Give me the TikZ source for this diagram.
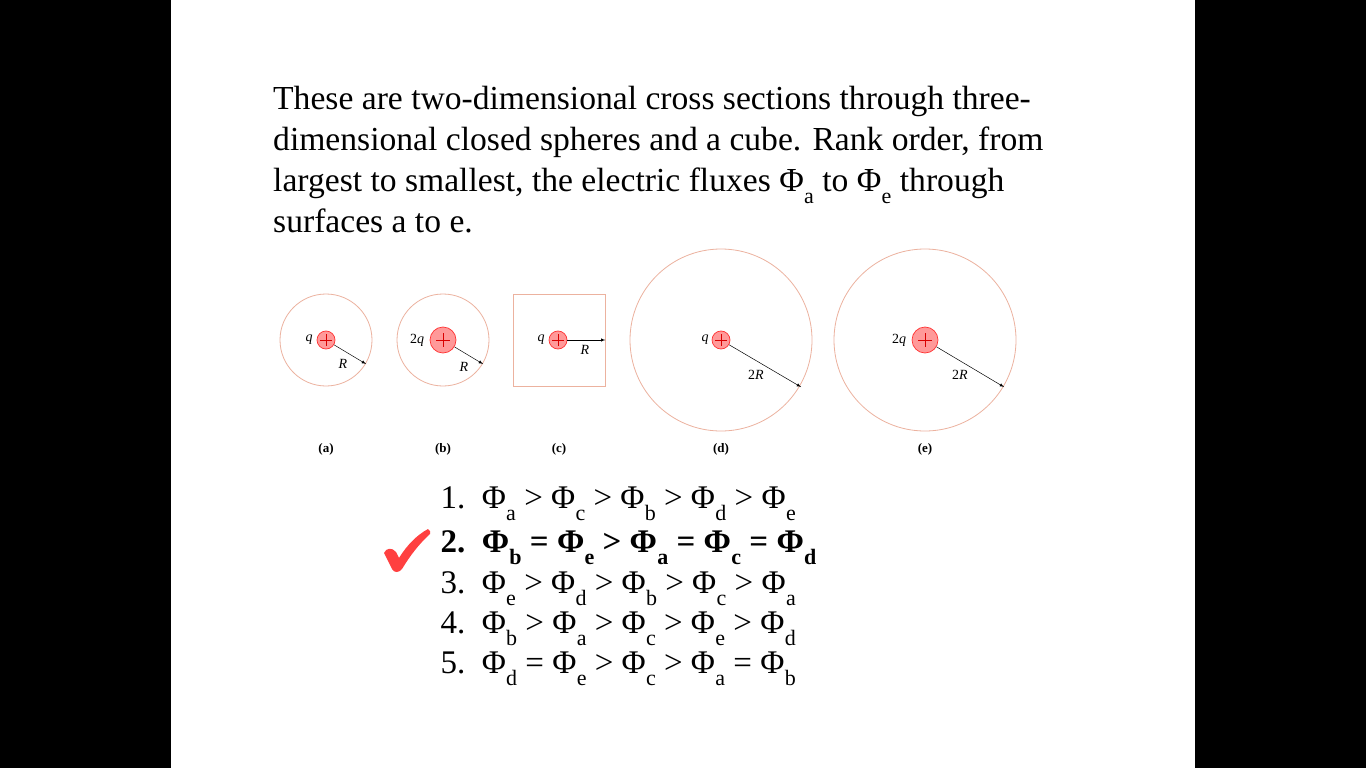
\documentclass[tikz,border=0pt]{standalone}
\usepackage{fontspec}
\setmainfont{Liberation Serif}
\newcommand{\F}[1]{Φ\kern0.01em\raisebox{-0.36em}{\fontsize{22}{22}\selectfont #1}}
\begin{document}
\begin{tikzpicture}[x=1pt,y=-1pt,
  surf/.style={draw=red!35!brown!45, line width=0.8pt},
  chg/.style={circle, draw=red!80, fill=red!40, line width=0.7pt, inner sep=0pt},
  plus/.style={draw=red!85!black, line width=1pt},
  rad/.style={-latex, line width=0.5pt},
  lab/.style={font=\fontsize{14}{14}\selectfont\itshape},
  caplab/.style={font=\fontsize{13}{13}\selectfont\bfseries},
  ans/.style={anchor=west, font=\fontsize{33}{33}\selectfont}]
\fill[black] (0,0) rectangle (1366,768);
\fill[white] (171,0) rectangle (1195,768);
\useasboundingbox (0,0) rectangle (1366,768);
\node[anchor=north west, align=left, font=\fontsize{33.6}{41}\selectfont, inner sep=0pt] (txt) at (273,86)
 {These are two-dimensional cross sections through three-\\
  dimensional closed spheres and a cube. Rank order, from\\
  largest to smallest, the electric fluxes \F{a} to \F{e} through\\
  surfaces a to e.};
% (a)
\node[circle, surf, minimum size=92pt] (sa) at (326,340) {};
\node[chg, minimum size=18pt] (ca) at (326,340) {};
\draw[plus] (320,340) -- (332,340) (326,334) -- (326,346);
\coordinate (ea) at (366,364);
\draw[rad] (ca) -- (ea);
\node[lab] (qa) at (309,340) {q};
\node[lab] (ra) at (343,364) {R};
\node[caplab] (la) at (326,449) {(a)};
% (b)
\node[circle, surf, minimum size=92pt] (sb) at (443,340) {};
\node[chg, minimum size=26pt] (cb) at (443,340) {};
\draw[plus] (436,340) -- (450,340) (443,333) -- (443,347);
\coordinate (eb) at (483,364);
\draw[rad] (cb) -- (eb);
\node[lab] (qb) at (417,340) {\upshape 2\itshape q};
\node[lab] (rb) at (464,367) {R};
\node[caplab] (lb) at (443,449) {(b)};
% (c)
\node[draw=red!35!brown!45, line width=0.8pt, minimum size=92pt] (sc) at (559,340) {};
\node[chg, minimum size=18pt] (cc) at (558,340) {};
\draw[plus] (552,340) -- (564,340) (558,334) -- (558,346);
\draw[rad] (cc) -- (sc.east);
\node[lab] (qc) at (541,340) {q};
\node[lab] (rc) at (585,350) {R};
\node[caplab] (lc) at (559,449) {(c)};
% (d)
\node[circle, surf, minimum size=182pt] (sd) at (721,340) {};
\node[chg, minimum size=18pt] (cd) at (721,340) {};
\draw[plus] (715,340) -- (727,340) (721,334) -- (721,346);
\coordinate (ed) at (801,387);
\draw[rad] (cd) -- (ed);
\node[lab] (qd) at (705,340) {q};
\node[font=\fontsize{14}{14}\selectfont] (rd) at (756,375) {2\textit{R}};
\node[caplab] (ld) at (721,449) {(d)};
% (e)
\node[circle, surf, minimum size=182pt] (se) at (925,340) {};
\node[chg, minimum size=26pt] (ce) at (925,340) {};
\draw[plus] (918,340) -- (932,340) (925,333) -- (925,347);
\coordinate (ee) at (1004,387);
\draw[rad] (ce) -- (ee);
\node[lab] (qe) at (899,340) {\upshape 2\itshape q};
\node[font=\fontsize{14}{14}\selectfont] (re) at (960,375) {2\textit{R}};
\node[caplab] (le) at (925,449) {(e)};
% answers
\node[ans] (a1) at (437,504) {1.\ \ \F{a} > \F{c} > \F{b} > \F{d} > \F{e}};
\node[ans, font=\fontsize{33}{33}\selectfont\bfseries] (a2) at (437,548) {2.\ \ \F{b} = \F{e} > \F{a} = \F{c} = \F{d}};
\node[ans] (a3) at (437,589) {3.\ \ \F{e} > \F{d} > \F{b} > \F{c} > \F{a}};
\node[ans] (a4) at (437,629) {4.\ \ \F{b} > \F{a} > \F{c} > \F{e} > \F{d}};
\node[ans] (a5) at (437,669) {5.\ \ \F{d} = \F{e} > \F{c} > \F{a} = \F{b}};
% check mark
\fill[red!75!white] (384,553) .. controls (386,548) and (392,547) .. (396,552)
  -- (399,558) .. controls (407,545) and (417,535) .. (428,529)
  .. controls (430,530) and (431,532) .. (430,534)
  .. controls (418,545) and (410,556) .. (402,569)
  .. controls (399,573) and (394,573) .. (392,569) -- cycle;
\end{tikzpicture}
\end{document}
